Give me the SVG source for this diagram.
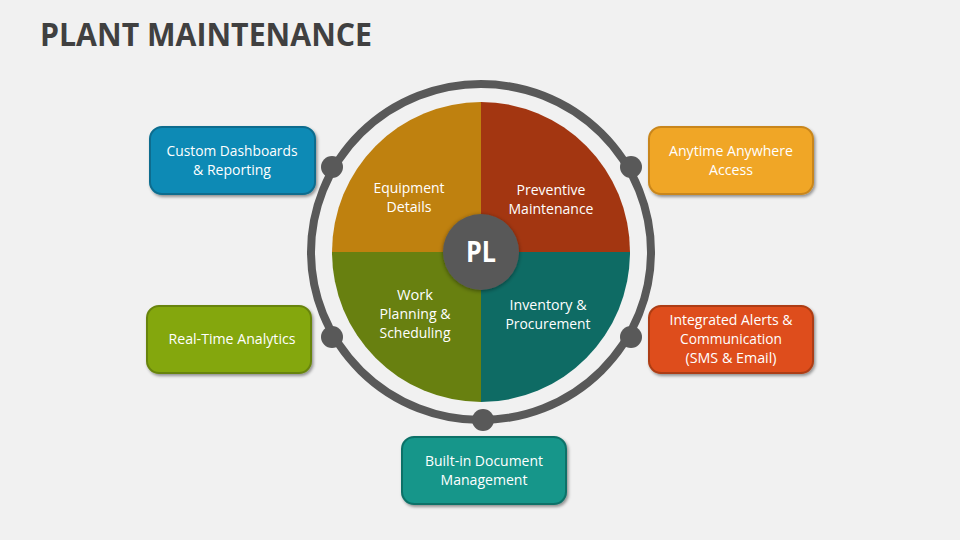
<svg xmlns="http://www.w3.org/2000/svg" width="960" height="540" viewBox="0 0 960 540">
<style>
text{font-family:"Open Sans","Liberation Sans",sans-serif;fill:#fff;text-anchor:middle;font-size:14px;font-weight:500}
.b{stroke-width:2}
.d{fill:#595959}
</style>
<defs>
<filter id="s" x="-10%" y="-10%" width="125%" height="130%"><feDropShadow dx="1.5" dy="2" stdDeviation="1.5" flood-color="#000" flood-opacity=".4"/></filter>
<filter id="c" x="-15%" y="-15%" width="130%" height="130%"><feDropShadow dx="0" dy="1" stdDeviation="2" flood-color="#000" flood-opacity=".45"/></filter>
</defs>
<rect width="960" height="540" fill="#f1f1f1"/>
<text x="206" y="46" style="font-size:32px;font-weight:700;fill:#404040" textLength="332" lengthAdjust="spacingAndGlyphs">PLANT MAINTENANCE</text>
<g id="connectors">
<ellipse cx="481" cy="252" rx="170" ry="168" fill="none" stroke="#595959" stroke-width="8"/>
<circle class="d" cx="332" cy="167" r="11"/>
<circle class="d" cx="631" cy="167" r="11"/>
<circle class="d" cx="332" cy="337" r="11"/>
<circle class="d" cx="631" cy="337" r="11"/>
<circle class="d" cx="483" cy="420" r="11"/>
</g>
<g id="pie-equipment"><path d="M481 252V102A149 150 0 0 0 332 252Z" fill="#bf810f"/>
<text x="409" y="193" textLength="71" lengthAdjust="spacingAndGlyphs">Equipment</text><text x="409" y="212" textLength="45" lengthAdjust="spacingAndGlyphs">Details</text></g>
<g id="pie-preventive"><path d="M481 252V102A149 150 0 0 1 630 252Z" fill="#a33611"/>
<text x="551" y="195" textLength="69" lengthAdjust="spacingAndGlyphs">Preventive</text><text x="551" y="214" textLength="85" lengthAdjust="spacingAndGlyphs">Maintenance</text></g>
<g id="pie-work"><path d="M481 252V402A149 150 0 0 1 332 252Z" fill="#688010"/>
<text x="415" y="300" textLength="36" lengthAdjust="spacingAndGlyphs">Work</text><text x="415" y="319" textLength="71" lengthAdjust="spacingAndGlyphs">Planning &amp;</text><text x="415" y="338" textLength="71" lengthAdjust="spacingAndGlyphs">Scheduling</text></g>
<g id="pie-inventory"><path d="M481 252V402A149 150 0 0 0 630 252Z" fill="#0e6b64"/>
<text x="548" y="310" textLength="77" lengthAdjust="spacingAndGlyphs">Inventory &amp;</text><text x="548" y="329" textLength="85" lengthAdjust="spacingAndGlyphs">Procurement</text></g>
<g id="center"><circle cx="481" cy="252" r="38" fill="#595959" filter="url(#c)"/>
<text x="481" y="262" style="font-size:28px;font-weight:700" textLength="30" lengthAdjust="spacingAndGlyphs">PL</text></g>
<g id="custom-dashboards"><rect class="b" x="150" y="127" width="165" height="67" rx="12" fill="#0e8ab5" stroke="#086c8e" filter="url(#s)"/>
<text x="232" y="156" textLength="131" lengthAdjust="spacingAndGlyphs">Custom Dashboards</text><text x="232" y="175" textLength="78" lengthAdjust="spacingAndGlyphs">&amp; Reporting</text></g>
<g id="anytime-anywhere"><rect class="b" x="649" y="127" width="164" height="67" rx="12" fill="#f0a628" stroke="#c9861a" filter="url(#s)"/>
<text x="731" y="156" textLength="124" lengthAdjust="spacingAndGlyphs">Anytime Anywhere</text><text x="731" y="175" textLength="44" lengthAdjust="spacingAndGlyphs">Access</text></g>
<g id="real-time"><rect class="b" x="147" y="306" width="164" height="67" rx="12" fill="#84a70f" stroke="#68840c" filter="url(#s)"/>
<text x="232" y="344" textLength="127" lengthAdjust="spacingAndGlyphs">Real-Time Analytics</text></g>
<g id="integrated-alerts"><rect class="b" x="649" y="306" width="164" height="67" rx="12" fill="#de4e1a" stroke="#ad3c12" filter="url(#s)"/>
<text x="731" y="325" textLength="123" lengthAdjust="spacingAndGlyphs">Integrated Alerts &amp;</text><text x="731" y="344" textLength="102" lengthAdjust="spacingAndGlyphs">Communication</text><text x="731" y="363" textLength="91" lengthAdjust="spacingAndGlyphs">(SMS &amp; Email)</text></g>
<g id="built-in"><rect class="b" x="402" y="437" width="164" height="67" rx="12" fill="#12968a" stroke="#0c7168" filter="url(#s)"/>
<text x="484" y="466" textLength="118" lengthAdjust="spacingAndGlyphs">Built-in Document</text><text x="484" y="485" textLength="87" lengthAdjust="spacingAndGlyphs">Management</text></g>
</svg>
